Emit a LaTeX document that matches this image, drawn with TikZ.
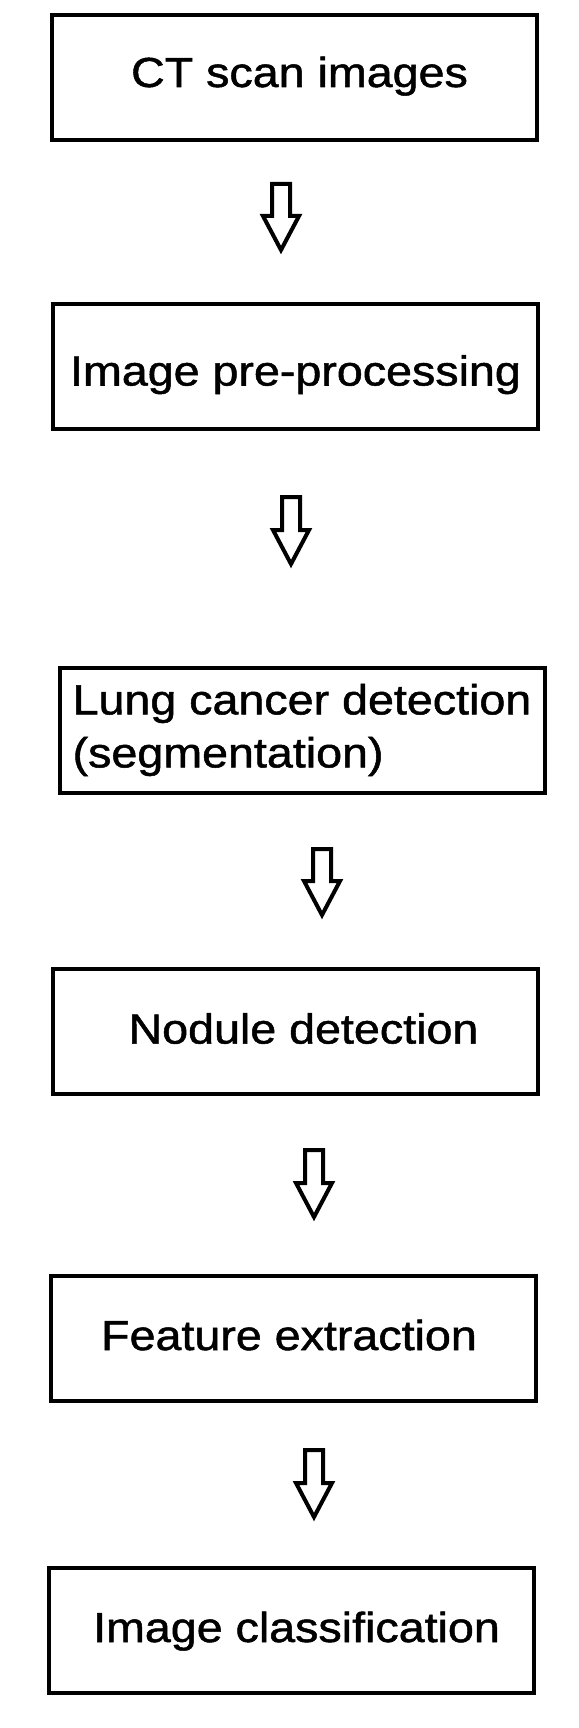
\documentclass[tikz,border=0pt]{standalone}
\usepackage{fontspec}
\setmainfont{Liberation Sans}[FakeStretch=1.11,FakeBold=1.2]
\begin{document}
\begin{tikzpicture}[x=1pt,y=-1pt,
  basebox/.style={draw=black, line width=4pt, minimum width=485pt, minimum height=125pt,
    inner sep=0pt, text=black, font=\fontsize{42pt}{48pt}\selectfont},
  stepbox/.style={basebox, text height=31pt, text depth=7pt},
  twobox/.style={basebox, align=left},
  blockarrow/.style={draw=black, line width=4pt, line join=miter,
    to path={([xshift=-9pt]\tikztostart) -- ([xshift=-9pt,yshift=34pt]\tikztotarget)
      -- ([xshift=-18pt,yshift=34pt]\tikztotarget) -- (\tikztotarget)
      -- ([xshift=18pt,yshift=34pt]\tikztotarget) -- ([xshift=9pt,yshift=34pt]\tikztotarget)
      -- ([xshift=9pt]\tikztostart) -- cycle}}
]
\useasboundingbox[fill=white] (0,0) rectangle (578,1728);

\node[stepbox, text depth=12pt] (b1) at (294.5,77.5) {\hspace*{10pt}CT scan images};
\node[stepbox, text height=45pt, text depth=7pt] (b2) at (295.5,366.5) {Image pre-processing};
\node[twobox]  (b3) at (302,730) {Lung cancer detection\\[5pt](segmentation)};
\node[stepbox] (b4) at (295.5,1031.5) {\hspace*{16pt}Nodule detection};
\node[stepbox] (b5) at (293,1338) {Feature extraction\hspace*{8pt}};
\node[stepbox] (b6) at (291,1630) {\hspace*{11pt}Image classification};

\coordinate (a1s) at (281,184);  \coordinate (a1e) at (281,250);
\coordinate (a2s) at (291,497);  \coordinate (a2e) at (291,564);
\coordinate (a3s) at (322,849);  \coordinate (a3e) at (322,915);
\coordinate (a4s) at (314,1150); \coordinate (a4e) at (314,1217);
\coordinate (a5s) at (314,1450); \coordinate (a5e) at (314,1517);

\draw[blockarrow] (a1s) to (a1e);
\draw[blockarrow] (a2s) to (a2e);
\draw[blockarrow] (a3s) to (a3e);
\draw[blockarrow] (a4s) to (a4e);
\draw[blockarrow] (a5s) to (a5e);
\end{tikzpicture}
\end{document}
